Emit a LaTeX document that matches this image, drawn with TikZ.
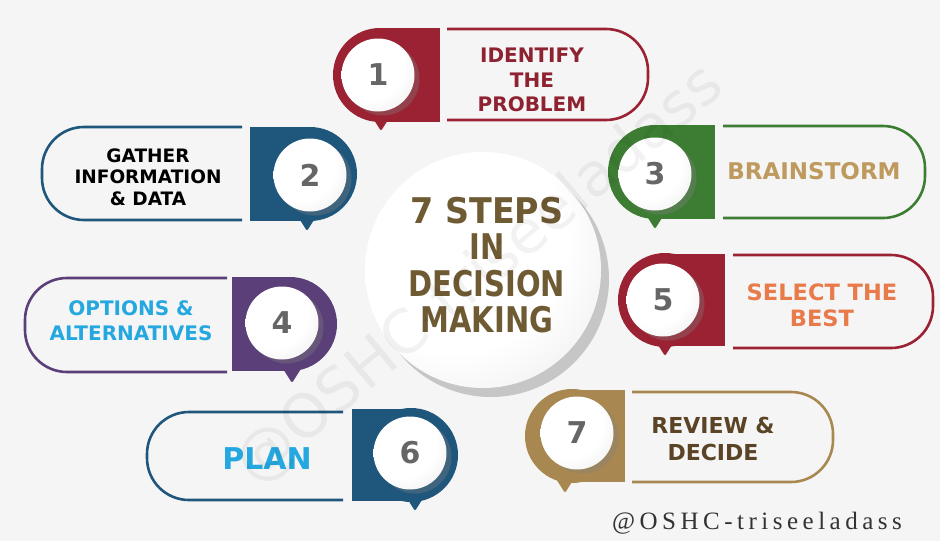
\documentclass[tikz,border=0pt]{standalone}
\usepackage{fontspec}
\usepackage{tikz}
\usetikzlibrary{shadows}
\usetikzlibrary{positioning}
\newfontfamily\stepfont{DejaVu Sans}
\newfontfamily\signfont[LetterSpace=18]{Liberation Serif}
\definecolor{wine}{HTML}{9B2233}
\definecolor{winetext}{HTML}{8E2231}
\definecolor{navy}{HTML}{1F567C}
\definecolor{leaf}{HTML}{3D7D33}
\definecolor{grape}{HTML}{5A3F78}
\definecolor{gold}{HTML}{A88850}
\definecolor{skytext}{HTML}{25A8DF}
\definecolor{tantext}{HTML}{BE9A5E}
\definecolor{orangetext}{HTML}{E97A4A}
\definecolor{browntext}{HTML}{5B4426}
\definecolor{numgray}{HTML}{666666}
\definecolor{bricktext}{HTML}{6F5B33}
\pgfdeclareradialshading{discshade}{\pgfpoint{-10bp}{10bp}}{color(0bp)=(white); color(24bp)=(white); color(50bp)=(black!12); color(68bp)=(black!26)}

\begin{document}
\begin{tikzpicture}[x=1pt,y=-1pt,
    disc/.style={circle,inner sep=0pt,minimum size=73pt,shading=discshade,
      drop shadow={shadow xshift=5pt,shadow yshift=-4pt,opacity=0.35},
      font=\stepfont\bfseries\fontsize{30}{30}\selectfont,text=numgray},
    capsule/.style={line width=2.6pt,rounded corners=42pt},
    steplabel/.style={align=center,inner sep=0pt},
    pointer/.style={rounded corners=2pt}]
    \useasboundingbox (0,0) rectangle (940,541);
    \fill[black!4] (0,0) rectangle (940,541);

    % center disc
    \node[circle,inner sep=0pt,minimum size=236pt,shading=discshade,
      drop shadow={shadow xshift=8pt,shadow yshift=-9pt,opacity=0.4}] (core) at (483,270) {};
    \node[steplabel,text=bricktext,font=\stepfont\bfseries\fontsize{29}{36.5}\selectfont] (title) at (487,265)
      {\scalebox{1.15}[1.22]{7 STEPS}\\\scalebox{1}[1.22]{IN}\\\scalebox{1}[1.22]{DECISION}\\\scalebox{1}[1.22]{MAKING}};

    % step 1
    \fill[wine] (380,75) circle (47pt);
    \fill[wine] (380,28) rectangle (440,122);
    \fill[wine,pointer] (369,112) -- (381,131) -- (393,112) -- cycle;
    \draw[capsule,wine] (447,29) -- (648,29) -- (648,120) -- (447,120);
    \node[disc] (d1) at (378,75) {1};
    \node[steplabel,text=winetext,font=\stepfont\bfseries\fontsize{20}{24.5}\selectfont] (t1) at (532,80)
      {IDENTIFY\\THE\\PROBLEM};

    % step 2
    \fill[navy] (310,174) circle (47pt);
    \fill[navy] (250,127) rectangle (310,221);
    \fill[navy,pointer] (295,212) -- (307,231) -- (319,212) -- cycle;
    \draw[capsule,navy] (242,127) -- (42,127) -- (42,220) -- (242,220);
    \node[disc] (d2) at (310,175) {2};
    \node[steplabel,text=black,font=\stepfont\bfseries\fontsize{18.5}{21.5}\selectfont] (t2) at (148,177)
      {GATHER\\INFORMATION\\\& DATA};

    % step 3
    \fill[leaf] (655,172) circle (47pt);
    \fill[leaf] (655,125) rectangle (715,219);
    \fill[leaf,pointer] (643,210) -- (655,229) -- (667,210) -- cycle;
    \draw[capsule,leaf] (723,126) -- (925,126) -- (925,218) -- (723,218);
    \node[disc] (d3) at (655,174) {3};
    \node[steplabel,text=tantext,font=\stepfont\bfseries\fontsize{23}{27}\selectfont] (t3) at (814,171)
      {BRAINSTORM};

    % step 4
    \fill[grape] (290,324) circle (47pt);
    \fill[grape] (232,277) rectangle (290,371);
    \fill[grape,pointer] (280,364) -- (292,383) -- (304,364) -- cycle;
    \draw[capsule,grape] (227,278) -- (25,278) -- (25,372) -- (227,372);
    \node[disc] (d4) at (282,323) {4};
    \node[steplabel,text=skytext,font=\stepfont\bfseries\fontsize{20}{25}\selectfont] (t4) at (131,321)
      {OPTIONS \&\\ALTERNATIVES};

    % step 5
    \fill[wine] (665,300) circle (47pt);
    \fill[wine] (665,254) rectangle (725,346);
    \fill[wine,pointer] (653,337) -- (665,356) -- (677,337) -- cycle;
    \draw[capsule,wine] (733,255) -- (933,255) -- (933,348) -- (733,348);
    \node[disc] (d5) at (663,300) {5};
    \node[steplabel,text=orangetext,font=\stepfont\bfseries\fontsize{22.5}{26}\selectfont] (t5) at (822,305)
      {SELECT THE\\BEST};

    % step 6
    \fill[navy] (411,455) circle (47pt);
    \fill[navy] (352,409) rectangle (411,501);
    \fill[navy,pointer] (403,492) -- (415,511) -- (427,492) -- cycle;
    \draw[capsule,navy] (343,412) -- (147,412) -- (147,500) -- (343,500);
    \node[disc] (d6) at (410,453) {6};
    \node[steplabel,text=skytext,font=\stepfont\bfseries\fontsize{30}{30}\selectfont] (t6) at (267,459)
      {PLAN};

    % step 7
    \fill[gold] (572,436) circle (47pt);
    \fill[gold] (572,390) rectangle (625,482);
    \fill[gold,pointer] (553,474) -- (565,493) -- (577,474) -- cycle;
    \draw[capsule,gold] (632,392) -- (833,392) -- (833,482) -- (632,482);
    \node[disc] (d7) at (577,433) {7};
    \node[steplabel,text=browntext,font=\stepfont\bfseries\fontsize{22}{27}\selectfont] (t7) at (713,439)
      {REVIEW \&\\DECIDE};

    % watermarks
    \node[rotate=40,text=black,opacity=0.05,font=\stepfont\fontsize{60}{60}\selectfont] (wm) at (480,275)
      {@OSHC-triseeladass};
    \node[text=black!80,font=\signfont\fontsize{25}{25}\selectfont] (sign) at (757,523)
      {@OSHC-triseeladass};
\end{tikzpicture}
\end{document}
